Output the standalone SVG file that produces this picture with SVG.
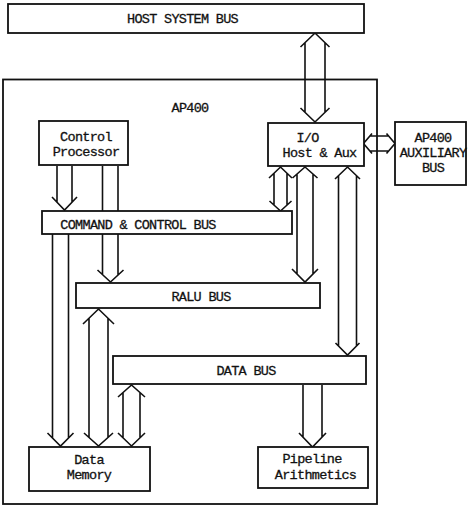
<svg xmlns="http://www.w3.org/2000/svg" width="474" height="508" viewBox="0 0 474 508">
<style>
.box{fill:#fff;stroke:#111;stroke-width:1.8}
.frame{fill:none;stroke:#111;stroke-width:1.8}
.c{fill:none;stroke:#111;stroke-width:1.6;stroke-linejoin:miter}
text{font-family:"Liberation Mono","DejaVu Sans Mono",monospace;font-size:13.5px;letter-spacing:-0.7px;fill:#111;stroke:#111;stroke-width:0.3;text-anchor:middle}
</style>
<rect width="474" height="508" fill="#fff"/>
<g id="ap400">
<rect class="frame" x="3" y="79.5" width="374" height="424.5"/>
<text x="190" y="112">AP400</text>
</g>
<g id="connectors">
<path class="c" d="M300.5,47 L315,33 L329.5,47 M305,42.7 V112.3 M325,42.7 V112.3 M300.5,108 L315,122 L329.5,108"/>
<path class="c" d="M372,133.5 L363.5,143.5 L372,153.5 M370,136 H388 M370,151 H388 M386.5,133.5 L395,143.5 L386.5,153.5"/>
<path class="c" d="M57,166 V202 M72,166 V202 M52,197 L64.5,210 L77,197"/>
<path class="c" d="M102.5,166 V211 M118,166 V211 M102.5,234 V275 M118,234 V275 M97.5,270 L110.5,282 L123.5,270"/>
<path class="c" d="M52.5,234 V438 M68.5,234 V438 M47.5,433 L60.5,446 L73.5,433"/>
<path class="c" d="M83,324 L98.5,309 L114,324 M89,318 V437.5 M108,318 V437.5 M84,433 L98.5,446 L113,433"/>
<path class="c" d="M118,397 L131.5,385 L145,397 M123,392.6 V437.8 M140,392.6 V437.8 M118,433 L131.5,446 L145,433"/>
<path class="c" d="M303,385 V437 M322,385 V437 M299,433 L312.5,447 L326,433"/>
<path class="c" d="M269,178 L280.5,167 L292,178 M274,173.2 V205 M287,173.2 V205 M269.5,201 L280.5,211 L291.5,201"/>
<path class="c" d="M292.5,178 L305,167 L317.5,178 M297,174 V274 M313,174 V274 M292,269 L305,282 L318,269"/>
<path class="c" d="M335,179 L347.5,167 L360,179 M338.5,175.6 V346 M356.5,175.6 V346 M335.5,343 L347.5,355 L359.5,343"/>
</g>
<g id="host-system-bus">
<rect class="box" x="8" y="4" width="356" height="29"/>
<text x="182.5" y="23">HOST SYSTEM BUS</text>
</g>
<g id="control-processor">
<rect class="box" x="39" y="121" width="89" height="44"/>
<text x="86" y="141">Control</text>
<text x="86" y="156">Processor</text>
</g>
<g id="io-host-aux">
<rect class="box" x="268" y="123" width="96" height="43"/>
<text x="307.5" y="142">I/O</text>
<text x="319.5" y="157">Host &amp; Aux</text>
</g>
<g id="ap400-auxiliary-bus">
<rect class="box" x="395" y="122" width="71" height="63"/>
<text x="433" y="142">AP400</text>
<text x="433" y="157">AUXILIARY</text>
<text x="433" y="172">BUS</text>
</g>
<g id="command-control-bus">
<rect class="box" x="42" y="211" width="250" height="23"/>
<text x="138" y="229">COMMAND &amp; CONTROL BUS</text>
</g>
<g id="ralu-bus">
<rect class="box" x="76" y="283" width="244" height="25"/>
<text x="201" y="301">RALU BUS</text>
</g>
<g id="data-bus">
<rect class="box" x="113" y="356" width="253" height="28"/>
<text x="246" y="375">DATA BUS</text>
</g>
<g id="data-memory">
<rect class="box" x="29" y="447" width="121" height="44"/>
<text x="89" y="464">Data</text>
<text x="89" y="479">Memory</text>
</g>
<g id="pipeline-arithmetics">
<rect class="box" x="258" y="447" width="110" height="41"/>
<text x="312" y="463">Pipeline</text>
<text x="315.5" y="478.5">Arithmetics</text>
</g>
</svg>
